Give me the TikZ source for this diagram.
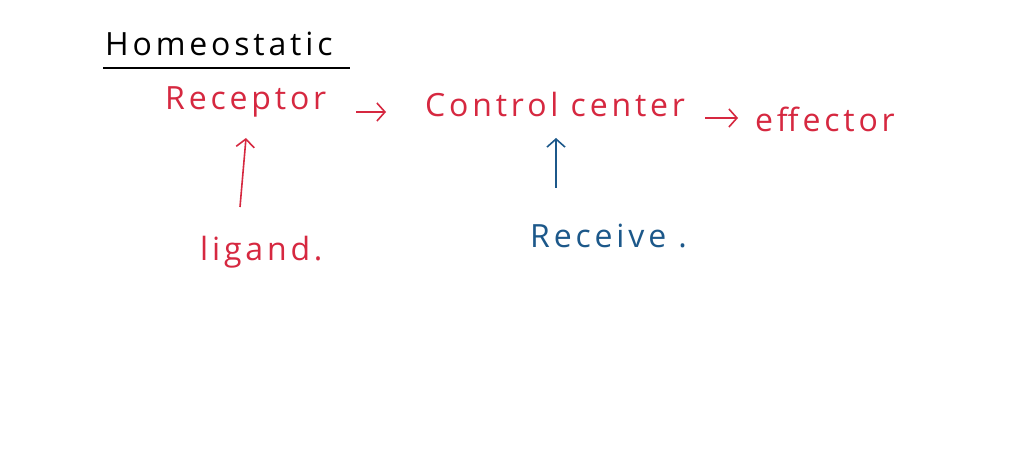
\documentclass[tikz,border=0pt]{standalone}
\usepackage{fontspec}
\usetikzlibrary{arrows.meta}
\setmainfont{Open Sans}[LetterSpace=12]
\definecolor{hred}{RGB}{214,40,64}
\definecolor{hblue}{RGB}{28,88,138}
\begin{document}
\begin{tikzpicture}[x=1pt,y=-1pt,
  lbl/.style={font=\fontsize{32}{34}\selectfont,inner sep=0pt,anchor=west},
  arr/.style={line width=1.6pt,-{Straight Barb[length=8pt,width=18pt]}}]
\useasboundingbox[fill=white] (0,0) rectangle (1024,470);
\node[lbl,text=black] (h) at (105,44) {Homeostatic};
\draw[line width=1.6pt] (103,68) -- (350,68);
\node[lbl,text=hred] (r) at (165,102) {Receptor};
\node[lbl,text=hred] (c) at (425,105) {Control center};
\node[lbl,text=hred] (e) at (755,119) {effector};
\coordinate (a1) at (356,112); \coordinate (a2) at (386,112);
\coordinate (b1) at (705,118); \coordinate (b2) at (738,118);
\draw[arr,hred] (a1) -- (a2);
\draw[arr,hred] (b1) -- (b2);
\node[lbl,text=hred] (l) at (200,252) {ligand.};
\node[lbl,text=hblue] (v) at (530,236) {Receive .};
\coordinate (s1) at (240,207); \coordinate (t1) at (246,138);
\coordinate (s2) at (556,188); \coordinate (t2) at (556,138);
\draw[arr,hred] (s1) -- (t1);
\draw[arr,hblue] (s2) -- (t2);
\end{tikzpicture}
\end{document}
